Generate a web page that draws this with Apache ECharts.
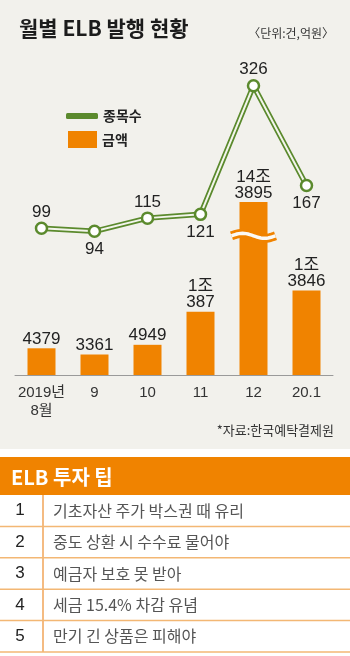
<!DOCTYPE html>
<html><head><meta charset="utf-8">
<script src="https://cdn.jsdelivr.net/npm/echarts@6/dist/echarts.min.js"></script>
<style>html,body{margin:0;padding:0;background:#fff;}#c{width:350px;height:656px;}</style>
</head><body><div id="c"></div>
<script>
// ---- data ----
const titleText = '월별 ELB 발행 현황';
const unitText = '〈단위:건,억원〉';
const sourceText = '*자료:한국예탁결제원';
const categories = ['2019년\n8월', '9', '10', '11', '12', '20.1'];
const countName = '종목수';
const amountName = '금액';
const issueCount = [99, 94, 115, 121, 326, 167];
const issueAmount = [4379, 3361, 4949, 10387, 143895, 13846];
const tipTitle = 'ELB 투자 팁';
const tipNumbers = ['1', '2', '3', '4', '5'];
const tipTexts = ['기초자산 주가 박스권 때 유리', '중도 상환 시 수수료 물어야', '예금자 보호 못 받아', '세금 15.4% 차감 유념', '만기 긴 상품은 피해야'];

// ---- style ----
const ORANGE = '#f08300';
const GREEN = '#5b8a2d';
const BG = '#f2f1ec';
const KR = "'Noto Sans CJK KR', sans-serif";
const NUM = "'Liberation Sans', 'Noto Sans CJK KR', sans-serif";
const LAB = "'Liberation Sans', 'Noto Sans CJK KR', sans-serif";
const BREAK_START = 22000, BREAK_END = 139175, BREAK_GAP = 1640, AMOUNT_MAX = 167175;
const labelPos = ['top', 'bottom', 'top', 'bottom', 'top', 'bottom'];

const chart = echarts.init(document.getElementById('c'), null, {renderer: 'canvas'});

function amountLabel(p) {
  const v = p.value;
  return v >= 10000 ? Math.floor(v / 10000) + '조\n' + (v % 10000) : String(v);
}

function baseGraphics() {
  const g = [];
  g.push({id: 'unit', type: 'text', x: 334, y: 33, style: {text: unitText, align: 'right', verticalAlign: 'middle', font: '12px ' + KR, fill: '#333'}});
  g.push({id: 'src', type: 'text', x: 334, y: 430, style: {text: sourceText, align: 'right', verticalAlign: 'middle', font: '13px ' + KR, fill: '#333'}});
  g.push({id: 'tblbg', type: 'rect', shape: {x: 0, y: 449, width: 350, height: 207}, style: {fill: '#ffffff'}, z: 0});
  g.push({id: 'hdr', type: 'rect', shape: {x: 0, y: 457, width: 350, height: 38}, style: {fill: ORANGE}, z: 1});
  g.push({id: 'hdrt', type: 'text', x: 11, y: 477, style: {text: tipTitle, verticalAlign: 'middle', font: 'bold 20px ' + KR, fill: '#fff'}, z: 2});
  const top = 495, rh = 31.4;
  g.push({id: 'vline', type: 'line', shape: {x1: 43, y1: top, x2: 43, y2: top + rh * 5}, style: {stroke: '#f0a458', lineWidth: 1.5}, z: 2});
  tipTexts.forEach((t, i) => {
    const yc = top + rh * (i + 0.5);
    g.push({id: 'hl' + i, type: 'line', shape: {x1: 0, y1: top + rh * (i + 1), x2: 350, y2: top + rh * (i + 1)}, style: {stroke: '#f3b774', lineWidth: 1.5}, z: 2});
    g.push({id: 'tn' + i, type: 'text', x: 20, y: yc, style: {text: tipNumbers[i], align: 'center', verticalAlign: 'middle', font: '17px ' + LAB, fill: '#222'}, z: 2});
    g.push({id: 'tt' + i, type: 'text', x: 53, y: yc, style: {text: t, verticalAlign: 'middle', font: '16px ' + KR, fill: '#555'}, z: 2});
  });
  return g;
}

const option = {
  backgroundColor: BG,
  animation: false,
  title: {text: titleText, left: 14, top: 13, textStyle: {fontFamily: KR, fontSize: 21, fontWeight: 'bold', color: '#1c1c1c'}},
  legend: [
    {data: [{name: countName, icon: 'roundRect', itemStyle: {color: GREEN, borderWidth: 0}}], left: 61, top: 104, itemWidth: 32, itemHeight: 6, selectedMode: false,
     textStyle: {fontFamily: KR, fontSize: 14, fontWeight: 'bold', color: '#222'}},
    {data: [{name: amountName, icon: 'rect'}], left: 63, top: 126, itemWidth: 29, itemHeight: 17, selectedMode: false,
     textStyle: {fontFamily: KR, fontSize: 14, fontWeight: 'bold', color: '#222'}}
  ],
  grid: {left: 15, right: 17, top: 60, bottom: 281, containLabel: false},
  xAxis: {type: 'category', data: categories, boundaryGap: true,
    axisLine: {lineStyle: {color: '#9a9a9a', width: 1}}, axisTick: {show: false},
    axisLabel: {interval: 0, fontFamily: LAB, fontSize: 15, color: '#333', lineHeight: 18, margin: 9}},
  yAxis: [
    {type: 'value', min: 0, max: AMOUNT_MAX, show: false, splitLine: {show: false},
     breaks: [{start: BREAK_START, end: BREAK_END, gap: BREAK_GAP}], breakArea: {show: false}},
    {type: 'value', min: -135, max: 367, show: false, splitLine: {show: false}}
  ],
  series: [
    {name: amountName, type: 'bar', data: issueAmount, barWidth: 28, yAxisIndex: 0, z: 2,
     itemStyle: {color: ORANGE},
     label: {show: true, position: 'top', distance: 1, formatter: amountLabel, fontFamily: NUM, fontSize: 17, lineHeight: 16, color: '#222'}},
    {name: countName, type: 'line', data: issueCount, yAxisIndex: 1, z: 3, symbol: 'none', silent: true,
     itemStyle: {color: GREEN}, lineStyle: {color: GREEN, width: 5.5}},
    {name: countName, type: 'line', yAxisIndex: 1, z: 4, symbol: 'circle', symbolSize: 11,
     data: issueCount.map((v, i) => ({value: v, label: {position: labelPos[i], distance: labelPos[i] === 'top' ? 1 : 3}})),
     itemStyle: {color: '#fff', borderColor: GREEN, borderWidth: 2.5},
     lineStyle: {color: '#f3f5ec', width: 2},
     label: {show: true, fontFamily: NUM, fontSize: 17, color: '#222'}}
  ],
  graphic: {elements: baseGraphics()}
};
chart.setOption(option);

// wavy break mark on the broken bar
const bx = chart.convertToPixel({xAxisIndex: 0}, categories[4]);
const ys = chart.convertToPixel({yAxisIndex: 0}, BREAK_START);
const ye = chart.convertToPixel({yAxisIndex: 0}, BREAK_END);
const yc = (ys + ye) / 2;
const half = 14 + 8;
const pts = [];
for (let k = 0; k <= 24; k++) {
  const t = k / 24;
  pts.push([bx - half + t * 2 * half, yc - 2.5 * Math.sin(2 * Math.PI * t)]);
}
const g = baseGraphics();
g.push({id: 'waveO', type: 'polyline', shape: {points: pts}, style: {stroke: ORANGE, lineWidth: 9, fill: null}, z: 10});
g.push({id: 'waveW', type: 'polyline', shape: {points: pts}, style: {stroke: '#fbfaf7', lineWidth: 3.5, fill: null}, z: 11});
chart.setOption({graphic: {elements: g}});
</script></body></html>
